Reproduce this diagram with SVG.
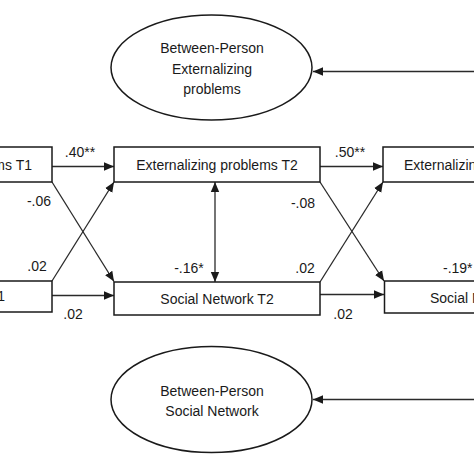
<svg xmlns="http://www.w3.org/2000/svg" width="474" height="474" viewBox="0 0 474 474">
<style>
text{font-family:"Liberation Sans",Arial,sans-serif;font-size:14px;fill:#1a1a1a}
.box{fill:#fff;stroke:#1a1a1a;stroke-width:1.5}
.ell{fill:#fff;stroke:#1a1a1a;stroke-width:1.5}
.c{fill:none;stroke:#2a2a2a;stroke-width:1.3}
.m{text-anchor:middle}
</style>
<defs>
<marker id="ah" markerUnits="userSpaceOnUse" markerWidth="10" markerHeight="10" viewBox="0 0 10 10" refX="10" refY="5" orient="auto-start-reverse">
<path d="M0,0.8 L10,5 L0,9.2 Z" fill="#1a1a1a"/>
</marker>
</defs>
<rect width="474" height="474" fill="#fff"/>
<g id="connectors">
<line class="c" x1="474" y1="71.5" x2="313" y2="71.5" marker-end="url(#ah)"/>
<line class="c" x1="474" y1="399.5" x2="313" y2="399.5" marker-end="url(#ah)"/>
<line class="c" x1="52" y1="166.5" x2="114" y2="166.5" marker-end="url(#ah)"/>
<line class="c" x1="52" y1="182" x2="114" y2="281.5" marker-end="url(#ah)"/>
<line class="c" x1="52" y1="281" x2="114" y2="182" marker-end="url(#ah)"/>
<line class="c" x1="52" y1="295.5" x2="114" y2="295.5" marker-end="url(#ah)"/>
<line class="c" x1="215" y1="182" x2="215" y2="282" marker-start="url(#ah)" marker-end="url(#ah)"/>
<line class="c" x1="320" y1="166.5" x2="383" y2="166.5" marker-end="url(#ah)"/>
<line class="c" x1="320" y1="182" x2="384" y2="281" marker-end="url(#ah)"/>
<line class="c" x1="320" y1="282" x2="383" y2="182" marker-end="url(#ah)"/>
<line class="c" x1="320" y1="294.5" x2="384" y2="294.5" marker-end="url(#ah)"/>
<text class="m" x="80" y="157">.40**</text>
<text class="m" x="39" y="206">-.06</text>
<text class="m" x="37" y="271">.02</text>
<text class="m" x="73" y="319">.02</text>
<text class="m" x="189" y="273">-.16*</text>
<text class="m" x="350" y="157">.50**</text>
<text class="m" x="303" y="208">-.08</text>
<text class="m" x="305" y="273">.02</text>
<text class="m" x="343" y="319">.02</text>
<text x="443" y="273">-.19*</text>
</g>
<g id="bp-ext">
<ellipse class="ell" cx="211.5" cy="67.5" rx="100.5" ry="52.5"/>
<text class="m" x="212" y="53">Between-Person</text>
<text class="m" x="212" y="74">Externalizing</text>
<text class="m" x="212" y="94">problems</text>
</g>
<g id="bp-soc">
<ellipse class="ell" cx="211.5" cy="399.5" rx="100.5" ry="53"/>
<text class="m" x="212" y="396">Between-Person</text>
<text class="m" x="212" y="416">Social Network</text>
</g>
<g id="ext-t1">
<rect class="box" x="-160" y="147" width="212" height="35"/>
<text x="32" y="169.5" text-anchor="end">Externalizing problems T1</text>
</g>
<g id="ext-t2">
<rect class="box" x="114" y="147" width="206" height="35"/>
<text class="m" x="217" y="169.5">Externalizing problems T2</text>
</g>
<g id="ext-t3">
<rect class="box" x="383" y="147" width="120" height="35"/>
<text x="404" y="169.5">Externalizing problems T3</text>
</g>
<g id="soc-t1">
<rect class="box" x="-160" y="281" width="212" height="31"/>
<text x="5" y="301" text-anchor="end">Social Network T1</text>
</g>
<g id="soc-t2">
<rect class="box" x="114" y="282" width="206" height="33"/>
<text class="m" x="217" y="304">Social Network T2</text>
</g>
<g id="soc-t3">
<rect class="box" x="384.5" y="281" width="120" height="32"/>
<text x="430" y="303">Social Network T3</text>
</g>
</svg>
